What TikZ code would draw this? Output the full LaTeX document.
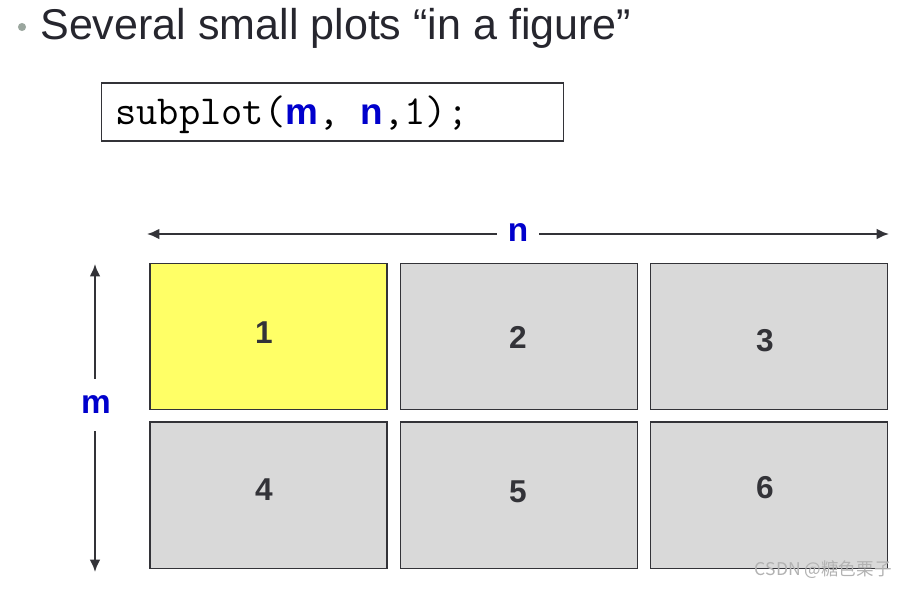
\documentclass[tikz,border=0pt]{standalone}
\usepackage{fontspec}
\setmainfont{Liberation Sans}
\newfontfamily\cjkfont{Noto Sans CJK SC}
\usetikzlibrary{positioning}
\usetikzlibrary{arrows.meta}
\definecolor{plotyellow}{RGB}{255,255,102}
\definecolor{plotgray}{RGB}{217,217,217}
\definecolor{edgegray}{RGB}{51,51,56}
\definecolor{dimblue}{RGB}{0,0,204}
\definecolor{bulletgray}{RGB}{154,166,158}
\definecolor{titleink}{RGB}{38,38,46}
\tikzset{
	subplot/.style={draw=edgegray,line width=0.7pt,fill=plotgray,minimum width=4.74cm,minimum height=2.93cm,inner sep=0pt},
	cellnum/.style={text=edgegray,font=\fontsize{18}{20}\selectfont\bfseries,inner sep=0pt},
	dimlabel/.style={text=dimblue,font=\fontsize{19}{22}\selectfont\bfseries},
	dimline/.style={draw=edgegray,line width=1.1pt,-{Latex[length=7pt,width=6pt]}},
}

\begin{document}
\begin{tikzpicture}[x=0.02cm,y=-0.02cm]
	\useasboundingbox (0,0) rectangle (909,588);
	
	% title..............................
	\fill [bulletgray] (22,27) circle [radius=2.3pt];
	\node [anchor=base west,inner sep=0pt,text=titleink,font=\fontsize{24.5}{28}\selectfont] (title) at (40,40) {Several small plots “in a figure”};
	
	% code line..........................
	\node [draw=edgegray,line width=0.6pt,minimum width=9.26cm,minimum height=1.16cm] (code) at (332.5,112) {};
	\node [anchor=base west,inner sep=0pt,font=\fontsize{23.5}{27}\selectfont\ttfamily] (codetext) at (115,125)
		{subplot(\textcolor{dimblue}{\normalfont\bfseries\fontsize{21}{24}\selectfont m}, \textcolor{dimblue}{\normalfont\bfseries\fontsize{21}{24}\selectfont n},1);};
	
	% grid of subplots...................
	\node [subplot,fill=plotyellow] (p1) at (268.5,336.5) {};
	\node [subplot] (p2) [right=0.24cm of p1] {};
	\node [subplot] (p3) [right=0.24cm of p2] {};
	\node [subplot] (p4) [below=0.22cm of p1] {};
	\node [subplot] (p5) [right=0.24cm of p4] {};
	\node [subplot] (p6) [right=0.24cm of p5] {};
	
	% numbers............................
	\node [cellnum] (n1) at (264,333) {1};
	\node [cellnum] (n2) at (518,337) {2};
	\node [cellnum] (n3) at (765,341) {3};
	\node [cellnum] (n4) at (264,490) {4};
	\node [cellnum] (n5) at (518,492) {5};
	\node [cellnum] (n6) at (765,488) {6};
	
	% n arrow............................
	\coordinate (nleft) at (147,234);
	\coordinate (nright) at (889,234);
	\node [dimlabel,inner xsep=6pt,inner ysep=0pt] (nlab) at (518,232.5) {n};
	\draw [dimline] (nlab.west |- nleft) -- (nleft);
	\draw [dimline] (nlab.east |- nright) -- (nright);
	
	% m arrow............................
	\coordinate (mtop) at (95,264);
	\coordinate (mbottom) at (95,572);
	\node [dimlabel,inner xsep=0pt,inner ysep=9.6pt] (mlab) at (96,405) {m};
	\draw [dimline] (mlab.north -| mtop) -- (mtop);
	\draw [dimline] (mlab.south -| mbottom) -- (mbottom);
	
	% watermark..........................
	\node [anchor=east,inner sep=0pt,text=black!30,font=\fontsize{10}{12}\selectfont\cjkfont] (mark) at (892,570) {CSDN @糖色栗子};
\end{tikzpicture}
\end{document}
